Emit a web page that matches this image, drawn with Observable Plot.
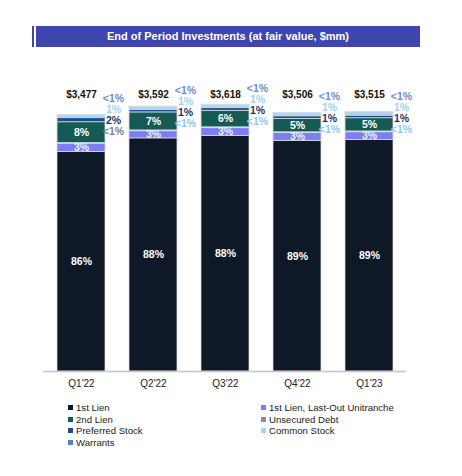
<!DOCTYPE html>
<html>
<head>
<meta charset="utf-8">
<script src="https://cdn.jsdelivr.net/npm/d3@7"></script>
<script src="https://cdn.jsdelivr.net/npm/@observablehq/plot@0.6"></script>
<style>
  body { margin: 0; background: #fff; font-family: "Liberation Sans", Arial, sans-serif; }
  #wrap { width: 462px; height: 476px; position: relative; }
  #title {
    position: absolute; left: 34px; top: 26px; width: 384px; height: 21px;
    background: #4145b0; color: #fff; font-weight: bold; font-size: 11px;
    line-height: 21px; text-align: center; border-left: 2px solid #fff; box-shadow: -2px 0 0 #4145b0;
  }
  #chart { position: absolute; left: 0; top: 47px; }
  #legend {
    position: absolute; left: 68px; top: 402px;
    display: grid; grid-template-columns: 193px 200px;
    font-size: 9.6px; color: #222; line-height: 11.7px;
  }
  #legend span.sw { display: inline-block; width: 5px; height: 5px; margin-right: 3px; vertical-align: 1px; }
</style>
</head>
<body>
<div id="wrap">
  <div id="title">End of Period Investments (at fair value, $mm)</div>
  <div id="chart"></div>
  <div id="legend"></div>
</div>
<script>
const quarters = ["Q1'22", "Q2'22", "Q3'22", "Q4'22", "Q1'23"]
const totals = [3477, 3592, 3618, 3506, 3515]

// share of total, percent
const firstLien   = [85.6, 88.0, 88.3, 89.2, 89.3]
const lastOut     = [3.2, 2.7, 2.9, 3.0, 3.0]
const unsecured   = [0.3, 0.3, 0.3, 0.3, 0.3]
const secondLien  = [8.1, 6.8, 6.2, 5.2, 5.1]
const preferred   = [1.6, 1.0, 1.0, 1.0, 1.0]
const common      = [1.0, 1.0, 1.0, 1.0, 1.0]
const warrants    = [0.2, 0.2, 0.3, 0.3, 0.3]

const types = ["1st Lien", "1st Lien, Last-Out Unitranche", "Unsecured Debt", "2nd Lien", "Preferred Stock", "Common Stock", "Warrants"]
const colors = ["#0e1826", "#7b7ef6", "#8a9099", "#165a56", "#1c4f8a", "#a0d7f6", "#4a86c5"]
const series = [firstLien, lastOut, unsecured, secondLien, preferred, common, warrants]
const legendOrder = ["1st Lien", "1st Lien, Last-Out Unitranche", "2nd Lien", "Unsecured Debt", "Preferred Stock", "Common Stock", "Warrants"]

const pctText = v => v < 1 ? "<1%" : Math.round(v) + "%"

const rows = []
quarters.forEach((q, i) => {
  types.forEach((t, j) => {
    rows.push({quarter: q, type: t, pct: series[j][i], value: totals[i] * series[j][i] / 100})
  })
})
const inside = ["1st Lien", "1st Lien, Last-Out Unitranche", "2nd Lien"]

// small labels to the right of each bar (top to bottom)
const sideTypes = [
  {type: "Warrants", src: warrants, dy: -16, color: ["#6f8ad6"]},
  {type: "Common Stock", src: common, dy: -5, color: ["#9bd3f4"]},
  {type: "Preferred Stock", src: preferred, dy: 6, color: ["#1f3a60"]},
  {type: "Unsecured Debt", src: unsecured, dy: 17, color: ["#7a8290", "#8fc8f0"]}
]
const totalsData = quarters.map((q, i) => ({quarter: q, total: totals[i]}))

const marks = [
  Plot.barY(rows, Plot.stackY({x: "quarter", y: "value", z: "type", fill: "type", order: types, stroke: "#d6dae2", strokeWidth: 0.8})),
  Plot.text(rows, Plot.stackY({x: "quarter", y: "value", z: "type", order: types,
    text: d => inside.includes(d.type) ? pctText(d.pct) : "",
    fill: d => d.type === "1st Lien, Last-Out Unitranche" ? "#eef0ff" : "white",
    fontWeight: "bold", fontSize: 10.5})),
  Plot.ruleY([0], {stroke: "#c4c4c4", strokeWidth: 1.5}),
  Plot.text(totalsData, {x: "quarter", frameAnchor: "top", dy: 14, text: d => "$" + d3.format(",")(d.total),
    fill: "#111", fontWeight: "bold", fontSize: 10})
]
sideTypes.forEach(s => {
  marks.push(Plot.text(quarters.map((q, i) => ({quarter: q, total: totals[i], v: s.src[i], i})), {
    x: "quarter", y: "total", dx: 32, dy: s.dy, text: d => pctText(d.v),
    fill: d => s.color[Math.min(d.i, s.color.length - 1)], fontWeight: "bold", fontSize: 10.5
  }))
})

const chart = Plot.plot({
  width: 462,
  height: 345,
  marginLeft: 43,
  marginRight: 56,
  marginTop: 29,
  marginBottom: 21,
  style: {fontFamily: "Liberation Sans, Arial, sans-serif", fontSize: "10px", color: "#222"},
  x: {domain: quarters, paddingInner: 0.34, paddingOuter: 0.17, label: null, tickSize: 0, tickPadding: 8},
  y: {domain: [0, 4000], axis: null},
  color: {domain: types, range: colors},
  marks
})
document.getElementById("chart").append(chart)

const legend = document.getElementById("legend")
legendOrder.forEach(t => {
  const div = document.createElement("div")
  div.innerHTML = `<span class="sw" style="background:${colors[types.indexOf(t)]}"></span>${t}`
  legend.append(div)
})
</script>
</body>
</html>
